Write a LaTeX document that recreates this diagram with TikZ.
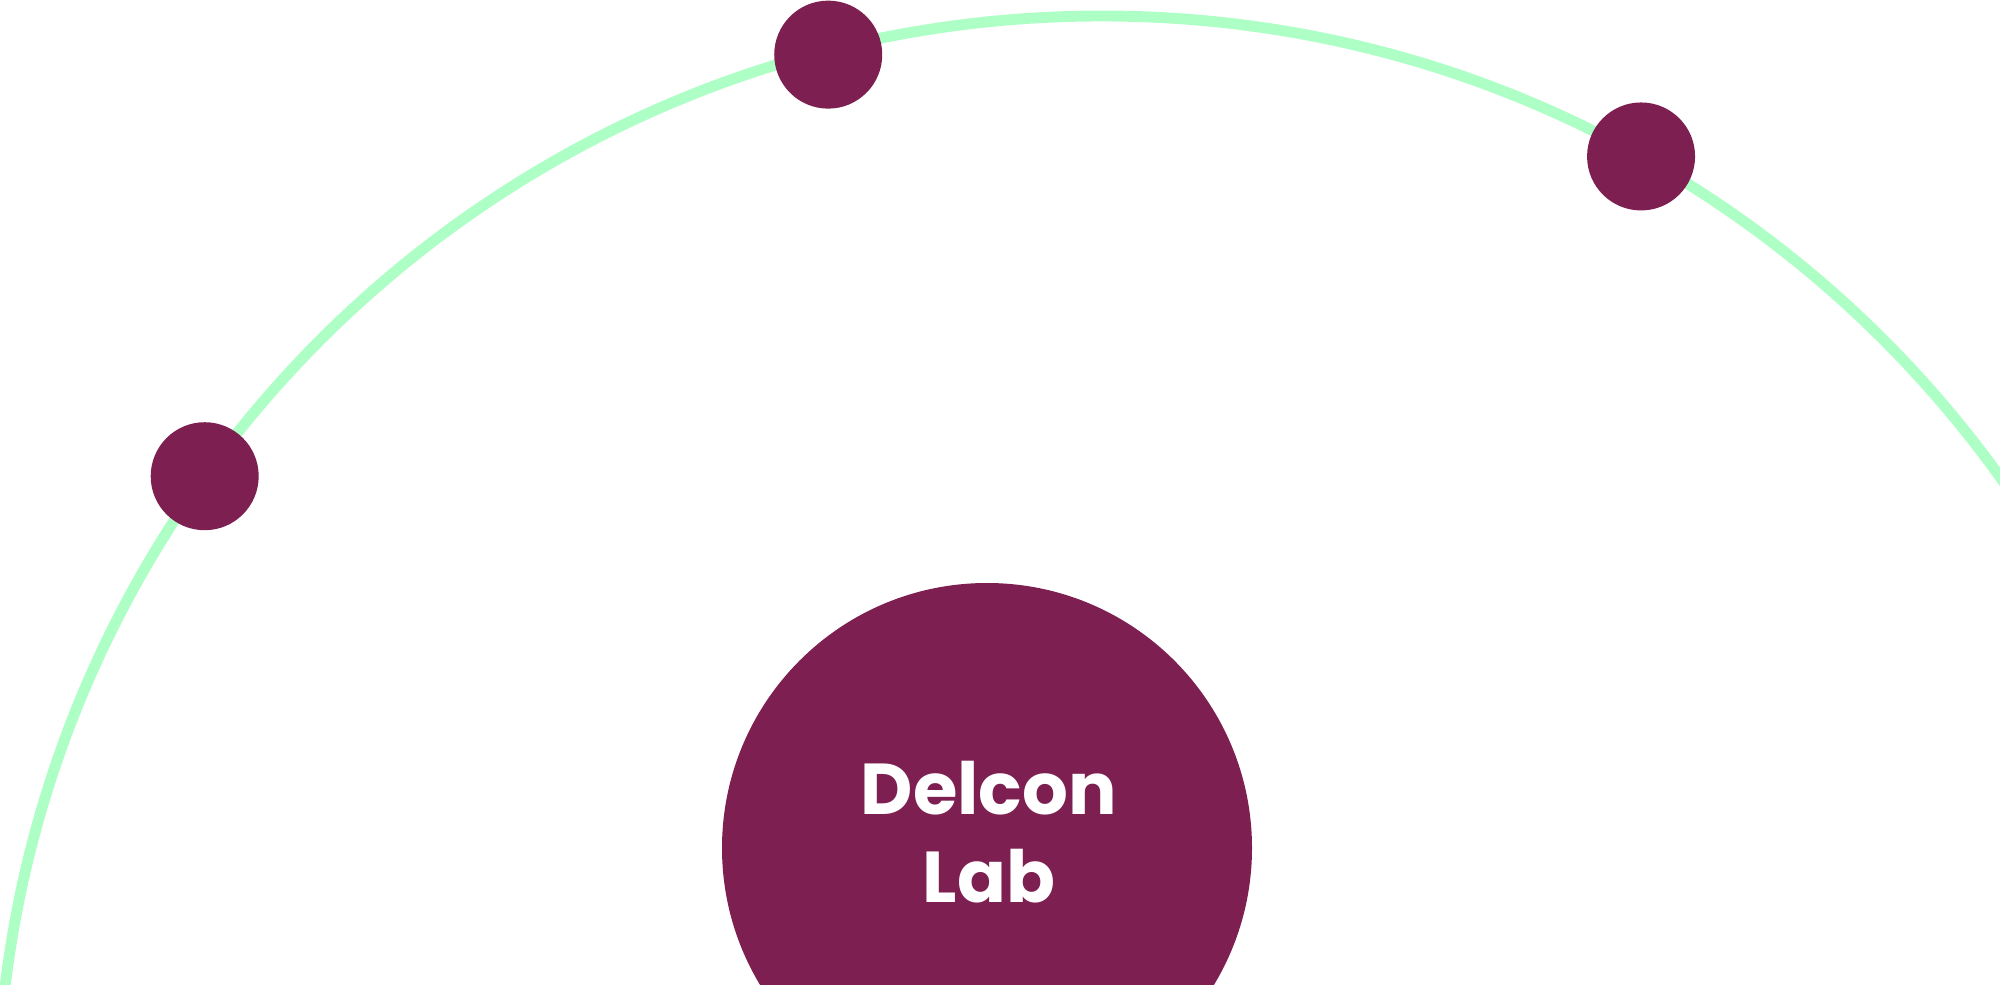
\documentclass[tikz,border=0pt]{standalone}
\usepackage{fontspec}
\setmainfont{Poppins}
\usetikzlibrary{positioning, calc}

\definecolor{labpurple}{RGB}{125,31,81}
\definecolor{orbitgreen}{RGB}{173,255,197}

\begin{document}
\begin{tikzpicture}[
            orbit/.style={draw=orbitgreen, line width=3.1pt},
            dot/.style={circle, fill=labpurple, minimum size=1.08cm, inner sep=0pt},
            core/.style={circle, fill=labpurple, minimum size=5.30cm, inner sep=0pt},
            corename/.style={text=white, align=center, font=\fontsize{20.5}{25}\selectfont\bfseries},
        ]
            % Frame of the picture
            \useasboundingbox (0,0) rectangle (20,9.84);
            \clip (0,0) rectangle (20,9.84);

            % Orbit round a centre far below the page
            \coordinate (hub) at (11.02,-1.37);
            \draw[orbit] (hub) circle (11.05);

            % Dots sitting on the orbit
            \node[dot] (dotleft)  at ($(hub)+(144.3:11.05)$) {};
            \node[dot] (dottop)   at ($(hub)+(104.4:11.01)$) {};
            \node[dot] (dotright) at ($(hub)+(60.8:11.05)$)  {};

            % Lab in the middle
            \node[core] (lab) at (9.87,1.36) {};
            \node[corename] (labname) at ($(lab.center)+(0.02,0.16)$) {Delcon\\Lab};
        \end{tikzpicture}
\end{document}
